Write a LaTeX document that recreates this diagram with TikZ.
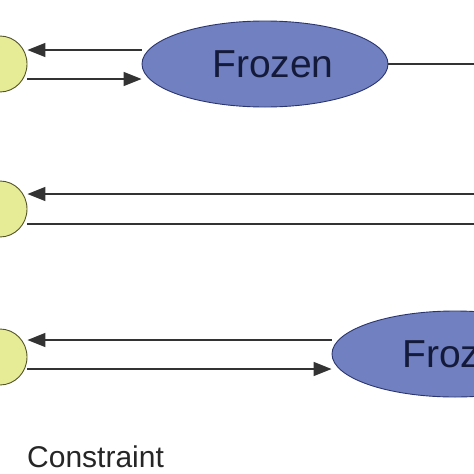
\documentclass[tikz,border=0pt]{standalone}
\usepackage{fontspec}
\setmainfont{Liberation Sans}
\usetikzlibrary{shapes.geometric,arrows.meta}
\definecolor{frfill}{HTML}{7080C0}
\definecolor{frdraw}{HTML}{2A3570}
\definecolor{ylfill}{HTML}{E6EB96}
\definecolor{yldraw}{HTML}{55552A}
\definecolor{lncol}{HTML}{333333}
\definecolor{txcol}{HTML}{141A3A}
\begin{document}
\begin{tikzpicture}[x=1pt,y=-1pt,
  frozen/.style={ellipse,draw=frdraw,line width=0.9pt,fill=frfill,minimum width=246pt,minimum height=86pt,inner sep=0pt,
    font=\fontsize{39}{39}\selectfont,text=txcol},
  yellowbox/.style={ellipse,draw=yldraw,line width=0.9pt,fill=ylfill,minimum width=54pt,minimum height=56pt,inner sep=0pt},
  conn/.style={draw=lncol,line width=1.4pt},
  arr/.style={conn,-{Triangle[length=18pt,width=14pt]}}]
\useasboundingbox (0,0) rectangle (474,474);
\clip (0,0) rectangle (474,474);
\fill[white] (0,0) rectangle (474,474);
% row 1
\node[yellowbox] (y1) at (0,64) {};
\node[frozen] (f1) at (265,64) {\hspace*{16pt}Frozen};
\coordinate (a1) at ([yshift=14pt]f1.west);
\coordinate (b1) at ([yshift=-15pt]f1.west);
\draw[arr] (a1) -- (a1 -| y1.east);
\draw[arr] (b1 -| y1.east) -- (b1);
\coordinate (r1) at (474,64);
\draw[conn] (f1.east) -- (r1);
% row 2
\node[yellowbox] (y2) at (0,209) {};
\coordinate (r2a) at (474,194);
\coordinate (r2b) at (474,224);
\draw[arr] (r2a) -- (r2a -| y2.east);
\draw[conn] (r2b -| y2.east) -- (r2b);
% row 3
\node[yellowbox] (y3) at (0,357) {};
\node[frozen] (f2) at (455,354) {\hspace*{16pt}Frozen};
\coordinate (a3) at ([yshift=14pt]f2.west);
\coordinate (b3) at ([yshift=-15pt]f2.west);
\draw[arr] (a3) -- (a3 -| y3.east);
\draw[arr] (b3 -| y3.east) -- (b3);
% label
\node[anchor=base west,inner sep=0pt,font=\fontsize{30}{30}\selectfont,text=black!85] (lbl) at (27,467) {Constraint};
\end{tikzpicture}
\end{document}
